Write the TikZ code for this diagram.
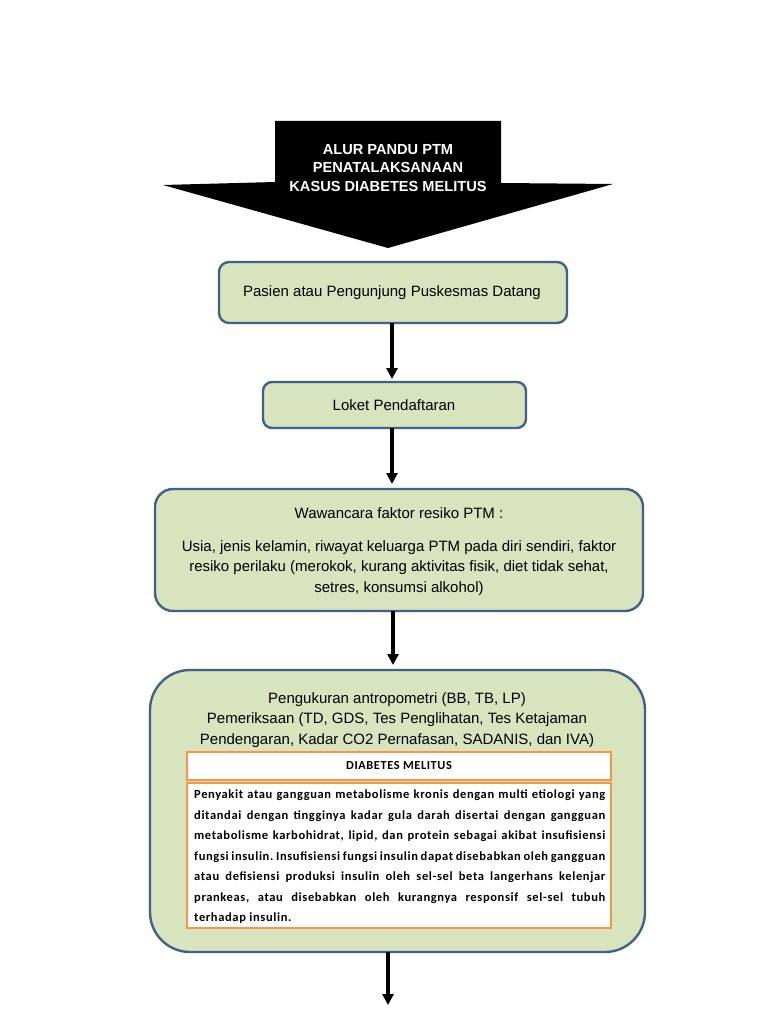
\documentclass[tikz,border=0pt]{standalone}
\usepackage{fontspec}
\setmainfont{Liberation Sans}
\newfontfamily\calib[LetterSpace=5]{Carlito}
\usetikzlibrary{arrows.meta}
\definecolor{boxfill}{HTML}{D7E4BD}
\definecolor{boxline}{HTML}{41618A}
\definecolor{orangeline}{HTML}{F79646}
\tikzset{
  x=1pt, y=-1pt,
  gbox/.style={draw=boxline, line width=2.4pt, fill=boxfill},
  obox/.style={draw=orangeline, line width=2pt, fill=white},
  flow/.style={line width=3.2pt, -{Triangle[length=11pt,width=11pt]}},
  txt/.style={font=\fontsize{15}{20.8}\selectfont, align=center, inner sep=0pt},
}
\begin{document}
\begin{tikzpicture}
\useasboundingbox (0,0) rectangle (768,1024);
% title arrow
\fill[black] (275,121) -- (501,121) -- (501,183) -- (613,184) -- (388,248) -- (163,185) -- (275,182) -- cycle;
\node[font=\bfseries\fontsize{14.6}{18.5}\selectfont, text=white, align=center, inner sep=0pt] (title) at (388,168) {ALUR PANDU PTM\\PENATALAKSANAAN\\KASUS DIABETES MELITUS};
% boxes
\draw[gbox, rounded corners=10pt] (219,262) rectangle (567,323);
\node[txt] (b1) at (392,293) {Pasien atau Pengunjung Puskesmas Datang};
\coordinate (b1s) at (392,323);
\coordinate (b2n) at (392,379);
\draw[gbox, rounded corners=9pt] (263,382) rectangle (526,428);
\node[txt] (b2) at (394,405) {Loket Pendaftaran};
\coordinate (b2s) at (392,428);
\coordinate (b3n) at (392,484);
\draw[gbox, rounded corners=18pt] (155,489) rectangle (643,611);
\node[txt] (b3a) at (399,513) {Wawancara faktor resiko PTM :};
\node[txt] (b3b) at (399,568) {Usia, jenis kelamin, riwayat keluarga PTM pada diri sendiri, faktor\\resiko perilaku (merokok, kurang aktivitas fisik, diet tidak sehat,\\setres, konsumsi alkohol)};
\coordinate (b3s) at (393,611);
\coordinate (b4n) at (393,665);
\draw[gbox, rounded corners=40pt] (150,670) rectangle (645,952);
\node[txt] (b4) at (397,720) {Pengukuran antropometri (BB, TB, LP)\\Pemeriksaan (TD, GDS, Tes Penglihatan, Tes Ketajaman\\Pendengaran, Kadar CO2 Pernafasan, SADANIS, dan IVA)};
\draw[obox] (187,752) rectangle (611,780);
\node[font=\calib\bfseries\fontsize{12.3}{14}\selectfont, inner sep=0pt] (dmh) at (399,766) {DIABETES MELITUS};
\draw[obox] (187,783) rectangle (611,928);
\node[font=\calib\bfseries\fontsize{12.5}{20.5}\selectfont, text width=411pt, align=justify, inner sep=0pt, anchor=north west] (dmb) at (194,790) {\frenchspacing\hyphenpenalty=10000\exhyphenpenalty=10000\hbadness=10000 Penyakit atau gangguan metabolisme kronis dengan multi etiologi yang\linebreak ditandai dengan tingginya kadar gula darah disertai dengan gangguan\linebreak metabolisme karbohidrat, lipid, dan protein sebagai akibat insufisiensi\linebreak fungsi insulin. Insufisiensi fungsi insulin dapat disebabkan oleh gangguan\linebreak atau defisiensi produksi insulin oleh sel-sel beta langerhans kelenjar\linebreak prankeas, atau disebabkan oleh kurangnya responsif sel-sel tubuh\linebreak terhadap insulin.};
\coordinate (b4s) at (388,952);
\coordinate (endp) at (388,1005);
% arrows
\draw[flow] (b1s) -- (b2n);
\draw[flow] (b2s) -- (b3n);
\draw[flow] (b3s) -- (b4n);
\draw[flow] (b4s) -- (endp);
\end{tikzpicture}
\end{document}
